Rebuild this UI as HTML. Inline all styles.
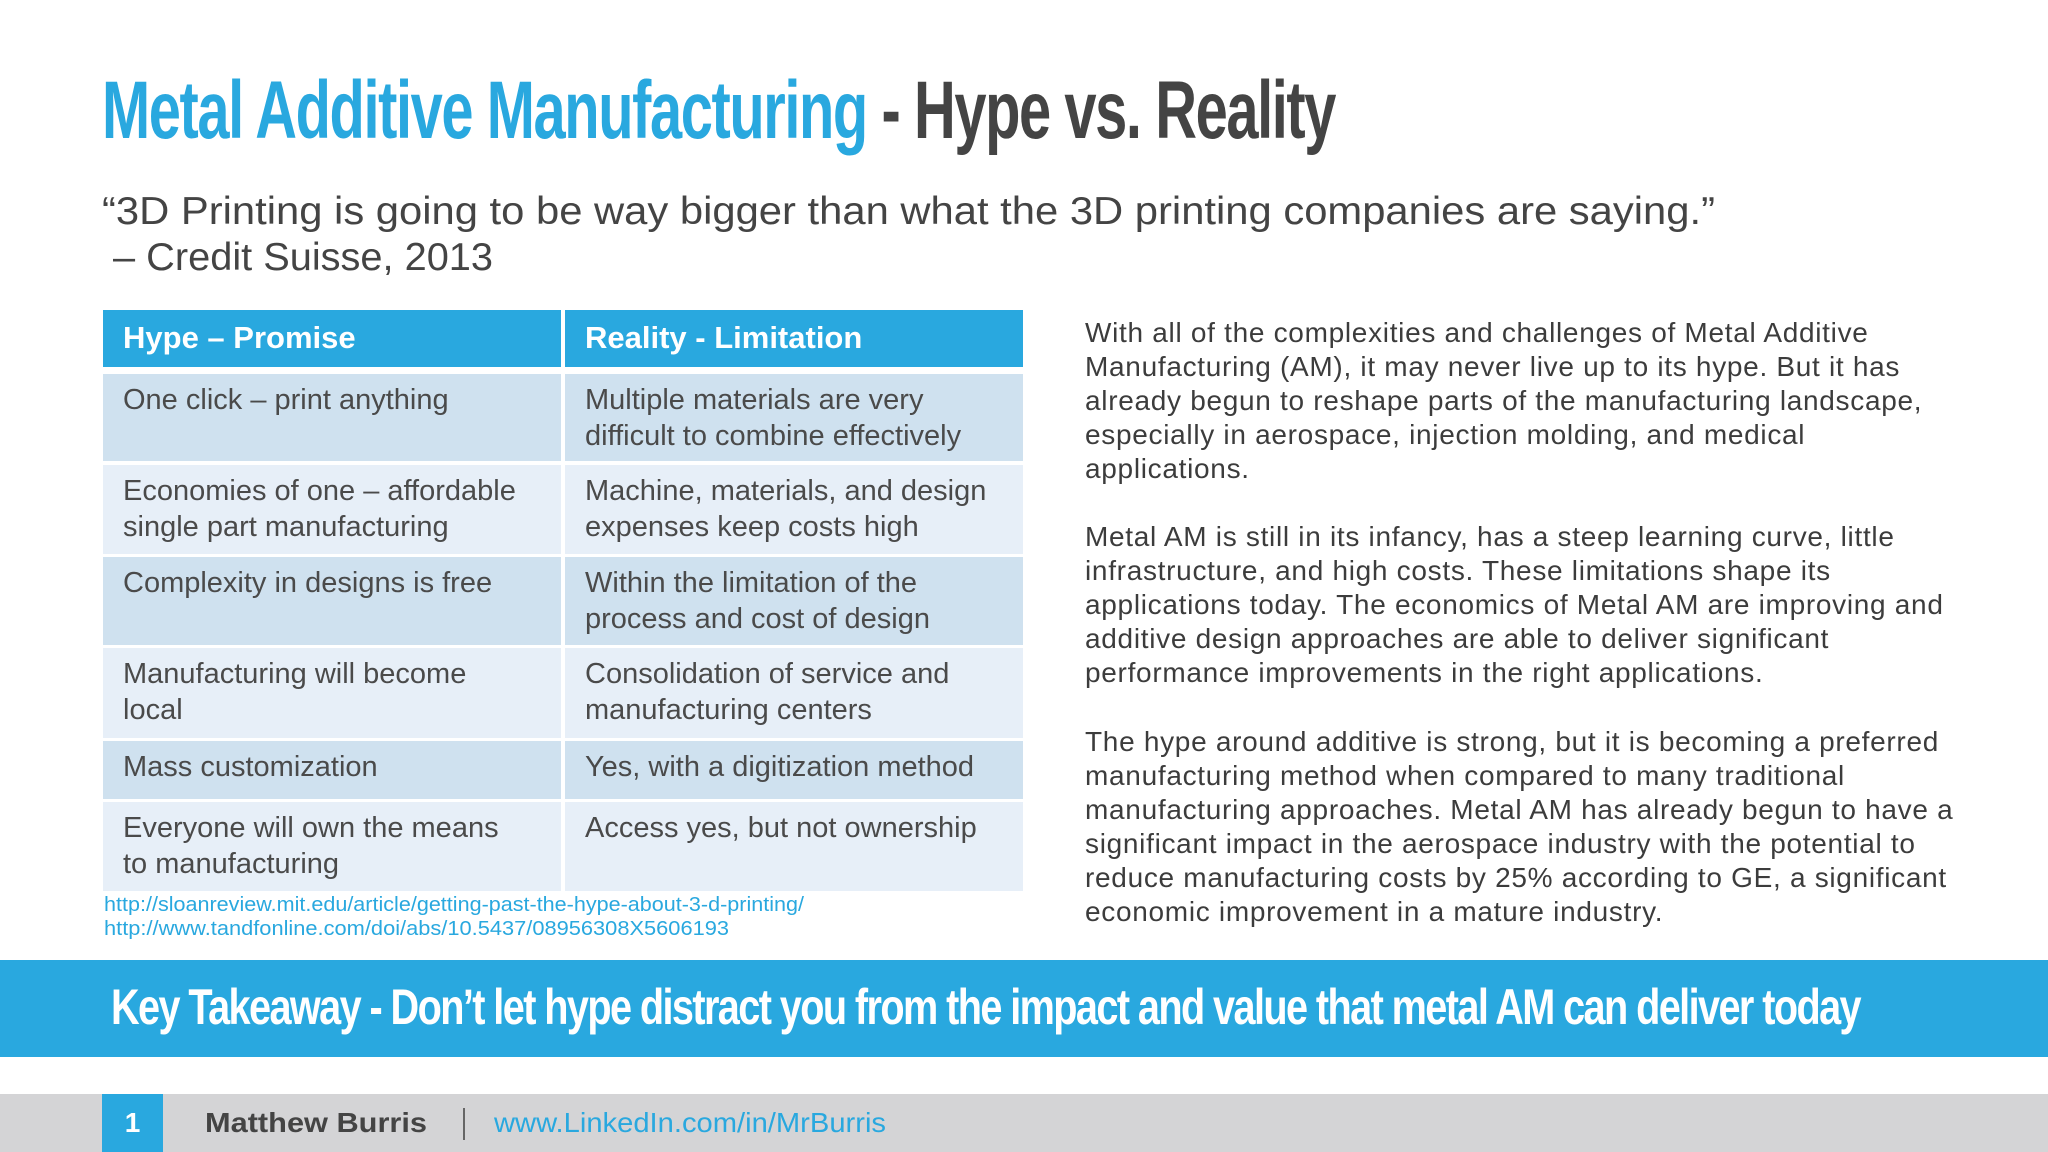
<!DOCTYPE html>
<html><head><meta charset="utf-8">
<style>
*{margin:0;padding:0;box-sizing:border-box}
body{width:2048px;height:1152px;background:#fff;position:relative;overflow:hidden;font-family:"Liberation Sans",sans-serif;color:#3c3c3c}
.abs{position:absolute;white-space:nowrap}
.fit{transform-origin:0 0;display:inline-block}
#title{left:102px;top:70px;font-size:82px;font-weight:bold;letter-spacing:-2px;line-height:1}
#title .b{color:#29a8df}#title .g{color:#444}
.quote{left:102px;font-size:39px;color:#444}
.cell{position:absolute;font-size:29px;line-height:36px;padding:8px 0 0 20px;color:#4a4a4a;white-space:nowrap}
.hdr{background:#29a8df;color:#fff;font-weight:bold;font-size:31px;padding-top:10px}
.odd{background:#cfe1ef}.even{background:#e7eff8}
.link{left:104px;font-size:20px;color:#29a8df;text-decoration:underline}
.para{left:1085px;font-size:28px;line-height:34px;color:#3c3c3c;white-space:nowrap;letter-spacing:0.7px}
#banner{left:0;top:960px;width:2048px;height:97px;background:#29a8df}
#bt{left:111px;top:978px;font-size:50px;font-weight:bold;color:#fff;letter-spacing:-2px}
#footer{left:0;top:1094px;width:2048px;height:58px;background:#d4d4d6}
#num{left:102px;top:1094px;width:61px;height:58px;background:#29a8df;color:#fff;font-weight:bold;font-size:28px;text-align:center;line-height:58px}
</style></head><body>
<div class="abs" id="title"><span class="fit" data-tw="1233"><span class="b">Metal Additive Manufacturing</span><span class="g"> - Hype vs. Reality</span></span></div>
<div class="abs quote" style="top:190px"><span class="fit" data-tw="1613">“3D Printing is going to be way bigger than what the 3D printing companies are saying.”</span></div>
<div class="abs quote" style="top:236px"><span class="fit" data-tw="391">&nbsp;– Credit Suisse, 2013</span></div>

<div>
<div class="cell hdr" style="left:103px;top:310px;width:458px;height:57px">Hype – Promise</div>
<div class="cell hdr" style="left:565px;top:310px;width:458px;height:57px">Reality - Limitation</div>

<div class="cell odd" style="left:103px;top:374px;width:458px;height:87px">One click – print anything</div>
<div class="cell odd" style="left:565px;top:374px;width:458px;height:87px">Multiple materials are very<br>difficult to combine effectively</div>

<div class="cell even" style="left:103px;top:465px;width:458px;height:89px">Economies of one – affordable<br>single part manufacturing</div>
<div class="cell even" style="left:565px;top:465px;width:458px;height:89px">Machine, materials, and design<br>expenses keep costs high</div>

<div class="cell odd" style="left:103px;top:557px;width:458px;height:88px">Complexity in designs is free</div>
<div class="cell odd" style="left:565px;top:557px;width:458px;height:88px">Within the limitation of the<br>process and cost of design</div>

<div class="cell even" style="left:103px;top:648px;width:458px;height:90px">Manufacturing will become<br>local</div>
<div class="cell even" style="left:565px;top:648px;width:458px;height:90px">Consolidation of service and<br>manufacturing centers</div>

<div class="cell odd" style="left:103px;top:741px;width:458px;height:58px">Mass customization</div>
<div class="cell odd" style="left:565px;top:741px;width:458px;height:58px">Yes, with a digitization method</div>

<div class="cell even" style="left:103px;top:802px;width:458px;height:89px;padding-top:8px">Everyone will own the means<br>to manufacturing</div>
<div class="cell even" style="left:565px;top:802px;width:458px;height:89px;padding-top:8px">Access yes, but not ownership</div>
</div>

<div class="abs link" style="top:894px"><span class="fit" data-tw="700">http://sloanreview.mit.edu/article/getting-past-the-hype-about-3-d-printing/</span></div>
<div class="abs link" style="top:918px"><span class="fit" data-tw="625">http://www.tandfonline.com/doi/abs/10.5437/08956308X5606193</span></div>

<div class="abs para" style="top:316px">With all of the complexities and challenges of Metal Additive<br>Manufacturing (AM), it may never live up to its hype. But it has<br>already begun to reshape parts of the manufacturing landscape,<br>especially in aerospace, injection molding, and medical<br>applications.</div>
<div class="abs para" style="top:520px">Metal AM is still in its infancy, has a steep learning curve, little<br>infrastructure, and high costs. These limitations shape its<br>applications today. The economics of Metal AM are improving and<br>additive design approaches are able to deliver significant<br>performance improvements in the right applications.</div>
<div class="abs para" style="top:725px">The hype around additive is strong, but it is becoming a preferred<br>manufacturing method when compared to many traditional<br>manufacturing approaches. Metal AM has already begun to have a<br>significant impact in the aerospace industry with the potential to<br>reduce manufacturing costs by 25% according to GE, a significant<br>economic improvement in a mature industry.</div>

<div class="abs" id="banner"></div>
<div class="abs" id="bt"><span class="fit" data-tw="1749">Key Takeaway - Don’t let hype distract you from the impact and value that metal AM can deliver today</span></div>

<div class="abs" id="footer"></div>
<div class="abs" id="num">1</div>
<div class="abs" style="left:205px;top:1107px;font-size:28px;font-weight:bold;color:#444"><span class="fit" data-tw="222">Matthew Burris</span></div>
<div class="abs" style="left:463px;top:1108px;width:2px;height:32px;background:#666"></div>
<div class="abs" style="left:494px;top:1107px;font-size:28px;color:#29a8df;text-decoration:underline"><span class="fit" data-tw="392">www.LinkedIn.com/in/MrBurris</span></div>
<script>
document.querySelectorAll('.fit').forEach(function(e){
  var tw=parseFloat(e.getAttribute('data-tw'));var w=e.getBoundingClientRect().width;
  if(w>0)e.style.transform='scaleX('+(tw/w)+')';
});
</script>
</body></html>
